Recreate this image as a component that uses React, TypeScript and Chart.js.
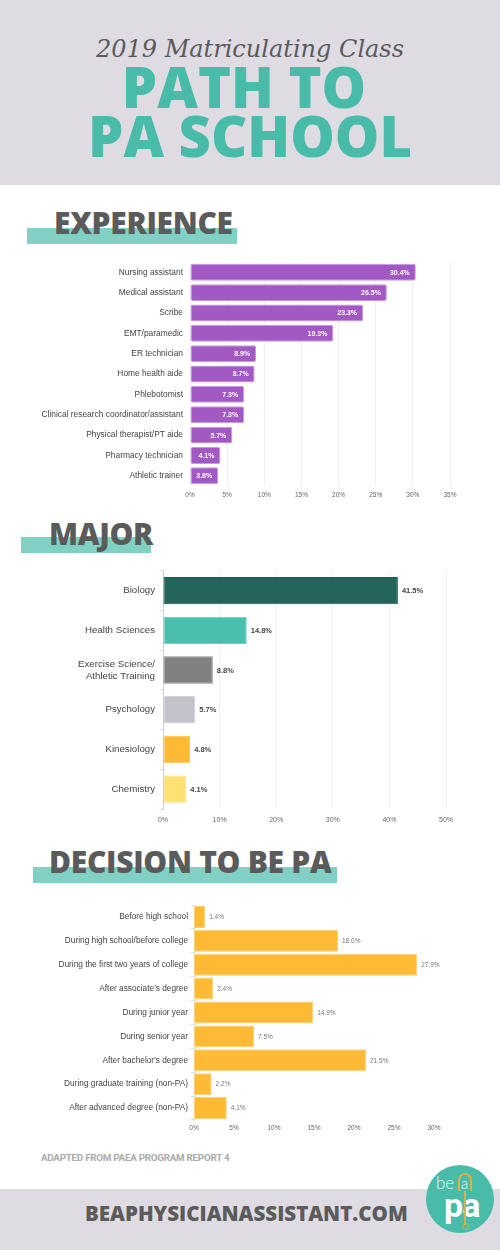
import React, { useEffect, useRef } from "react";
import { Chart, registerables } from "chart.js";

Chart.register(...registerables);

// ---------- DATA ----------
const experienceLabels = [
  "Nursing assistant",
  "Medical assistant",
  "Scribe",
  "EMT/paramedic",
  "ER technician",
  "Home health aide",
  "Phlebotomist",
  "Clinical research coordinator/assistant",
  "Physical therapist/PT aide",
  "Pharmacy technician",
  "Athletic trainer",
];
const experienceValues = [30.4, 26.5, 23.3, 19.3, 8.9, 8.7, 7.3, 7.3, 5.7, 4.1, 3.8];

const majorLabels = [
  "Biology",
  "Health Sciences",
  ["Exercise Science/", "Athletic Training"],
  "Psychology",
  "Kinesiology",
  "Chemistry",
];
const majorValues = [41.5, 14.8, 8.8, 5.7, 4.8, 4.1];
const majorColors = ["#25645a", "#4abfad", "#808080", "#c4c3cb", "#fdbb35", "#fde173"];
const majorBorders = ["#1f5a50", "#6fd0c0", "#8c8c8c", "#d2d1d8", "#fdc550", "#fde58a"];

const decisionLabels = [
  "Before high school",
  "During high school/before college",
  "During the first two years of college",
  "After associate's degree",
  "During junior year",
  "During senior year",
  "After bachelor's degree",
  "During graduate training (non-PA)",
  "After advanced degree (non-PA)",
];
const decisionValues = [1.4, 18.0, 27.9, 2.4, 14.9, 7.5, 21.5, 2.2, 4.1];

const CHART_FONT = "'Liberation Sans', Arial, sans-serif";

const valueLabels = {
  id: "valueLabels",
  afterDatasetsDraw(chart: any, _args: any, opts: any) {
    const { ctx } = chart;
    const meta = chart.getDatasetMeta(0);
    const data = chart.data.datasets[0].data as number[];
    ctx.save();
    ctx.font = opts.font;
    ctx.fillStyle = opts.color;
    ctx.textBaseline = "middle";
    meta.data.forEach((bar: any, i: number) => {
      const text = data[i].toFixed(1) + "%";
      if (opts.inside) {
        ctx.textAlign = "right";
        ctx.fillText(text, bar.x - opts.offset, bar.y + 0.5);
      } else {
        ctx.textAlign = "left";
        ctx.fillText(text, bar.x + opts.offset, bar.y + 0.5);
      }
    });
    ctx.restore();
  },
};

function useChart(ref: React.RefObject<HTMLCanvasElement>, make: () => any) {
  useEffect(() => {
    if (!ref.current) return;
    const chart = new Chart(ref.current, make());
    return () => chart.destroy();
  }, []);
}

function ExperienceChart() {
  const ref = useRef<HTMLCanvasElement>(null);
  useChart(ref, () => ({
    type: "bar",
    data: {
      labels: experienceLabels,
      datasets: [
        {
          data: experienceValues,
          backgroundColor: "#a259c4",
          borderColor: "#c59ade",
          borderWidth: 1,
          borderRadius: 2,
          borderSkipped: false,
          categoryPercentage: 1,
          barPercentage: 0.83,
        },
      ],
    },
    plugins: [valueLabels],
    options: {
      indexAxis: "y",
      responsive: false,
      animation: false,
      layout: { padding: { top: 9, right: 50, left: 0, bottom: 0 } },
      plugins: {
        legend: { display: false },
        tooltip: { enabled: false },
        valueLabels: { inside: true, offset: 6, font: `bold 7px ${CHART_FONT}`, color: "#ffffff" },
      },
      scales: {
        x: {
          min: 0,
          max: 35,
          ticks: {
            stepSize: 5,
            callback: (v: any) => v + "%",
            font: { family: CHART_FONT, size: 6.5 },
            color: "#666",
            padding: 5.5,
          },
          grid: { color: "#efefef", drawTicks: false },
          border: { display: false },
          afterFit: (s: any) => { s.height = 20; },
        },
        y: {
          ticks: { font: { family: CHART_FONT, size: 8.4 }, color: "#444", padding: 7 },
          grid: { display: false, drawTicks: false },
          border: { display: false },
          afterFit: (s: any) => { s.width = 190; },
        },
      },
    },
  }));
  return <canvas ref={ref} width={500} height={256} style={{ position: "absolute", left: 0, top: 250 }} />;
}

function MajorChart() {
  const ref = useRef<HTMLCanvasElement>(null);
  useChart(ref, () => ({
    type: "bar",
    data: {
      labels: majorLabels,
      datasets: [
        {
          data: majorValues,
          backgroundColor: majorColors,
          borderColor: majorBorders,
          borderWidth: 1,
          borderSkipped: false,
          categoryPercentage: 1,
          barPercentage: 0.69,
        },
      ],
    },
    plugins: [valueLabels],
    options: {
      indexAxis: "y",
      responsive: false,
      animation: false,
      layout: { padding: { top: 4.6, right: 54, left: 0, bottom: 0 } },
      plugins: {
        legend: { display: false },
        tooltip: { enabled: false },
        valueLabels: { inside: false, offset: 4, font: `bold 7.5px ${CHART_FONT}`, color: "#444" },
      },
      scales: {
        x: {
          min: 0,
          max: 50,
          ticks: {
            stepSize: 10,
            callback: (v: any) => v + "%",
            font: { family: CHART_FONT, size: 7 },
            color: "#666",
            padding: 6.5,
          },
          grid: { color: "#f0f0f0", drawTicks: false },
          border: { display: false },
          afterFit: (s: any) => { s.height = 20; },
        },
        y: {
          ticks: { font: { family: CHART_FONT, size: 9.7 }, color: "#444", padding: 5 },
          grid: { drawOnChartArea: false, drawTicks: true, tickLength: 3, color: "#dddddd" },
          border: { display: true, color: "#cccccc" },
          afterFit: (s: any) => { s.width = 163; },
        },
      },
    },
  }));
  return <canvas ref={ref} width={500} height={269} style={{ position: "absolute", left: 0, top: 560 }} />;
}

function DecisionChart() {
  const ref = useRef<HTMLCanvasElement>(null);
  useChart(ref, () => ({
    type: "bar",
    data: {
      labels: decisionLabels,
      datasets: [
        {
          data: decisionValues,
          backgroundColor: "#fdbb35",
          borderColor: "#fdd07a",
          borderWidth: 1,
          borderSkipped: false,
          categoryPercentage: 1,
          barPercentage: 0.92,
        },
      ],
    },
    plugins: [valueLabels],
    options: {
      indexAxis: "y",
      responsive: false,
      animation: false,
      layout: { padding: { top: 10, right: 66, left: 0, bottom: 0 } },
      plugins: {
        legend: { display: false },
        tooltip: { enabled: false },
        valueLabels: { inside: false, offset: 4, font: `6.5px ${CHART_FONT}`, color: "#777" },
      },
      scales: {
        x: {
          min: 0,
          max: 30,
          ticks: {
            stepSize: 5,
            callback: (v: any) => v + "%",
            font: { family: CHART_FONT, size: 6.5 },
            color: "#666",
            padding: 4.5,
          },
          grid: { display: false, drawTicks: false },
          border: { display: false },
          afterFit: (s: any) => { s.height = 16; },
        },
        y: {
          ticks: { font: { family: CHART_FONT, size: 8.3 }, color: "#444", padding: 3 },
          grid: { drawOnChartArea: false, drawTicks: true, tickLength: 3, color: "#dddddd" },
          border: { display: true, color: "#dddddd" },
          afterFit: (s: any) => { s.width = 194; },
        },
      },
    },
  }));
  return <canvas ref={ref} width={500} height={241} style={{ position: "absolute", left: 0, top: 895 }} />;
}

const HEAD_FONT = "'Open Sans', 'DejaVu Sans', sans-serif";

function SectionHeading(props: { text: string; barLeft: number; barWidth: number; barTop: number; textLeft: number; textTop: number }) {
  return (
    <>
      <div
        style={{
          position: "absolute",
          left: props.barLeft,
          top: props.barTop,
          width: props.barWidth,
          height: 16,
          background: "#80d1c3",
        }}
      />
      <div
        style={{
          position: "absolute",
          left: props.textLeft,
          top: props.textTop,
          fontFamily: HEAD_FONT,
          fontWeight: 800,
          fontSize: 30,
          lineHeight: "30px",
          color: "#5b5b5b",
          whiteSpace: "nowrap",
          letterSpacing: -0.3,
        }}
      >
        {props.text}
      </div>
    </>
  );
}

export default function App() {
  return (
    <div style={{ position: "absolute", left: 0, top: 0, width: 500, height: 1250, background: "#ffffff", overflow: "hidden" }}>
      {/* Header band */}
      <div style={{ position: "absolute", left: 0, top: 0, width: 500, height: 185, background: "#dedbe2" }} />
      <div
        style={{
          position: "absolute",
          left: 0,
          width: 500,
          top: 34,
          textAlign: "center",
          fontFamily: "'DejaVu Serif', serif",
          fontStyle: "italic",
          fontSize: 24,
          lineHeight: "30px",
          color: "#5b5b5b",
          whiteSpace: "nowrap",
        }}
      >
        2019 Matriculating Class
      </div>
      <div
        style={{
          position: "absolute",
          left: 0,
          width: 500,
          top: 62,
          textAlign: "center",
          fontFamily: HEAD_FONT,
          fontWeight: 800,
          fontSize: 56,
          lineHeight: "49px",
          color: "#48bca9",
          whiteSpace: "nowrap",
        }}
      >
        <div style={{ position: "relative", left: -6 }}>PATH TO</div>
        <div>PA SCHOOL</div>
      </div>

      <SectionHeading text="EXPERIENCE" barLeft={27} barWidth={210} barTop={228} textLeft={54} textTop={208} />
      <ExperienceChart />

      <SectionHeading text="MAJOR" barLeft={21} barWidth={130} barTop={537} textLeft={49} textTop={519} />
      <MajorChart />

      <SectionHeading text="DECISION TO BE PA" barLeft={33} barWidth={304} barTop={867} textLeft={49} textTop={847} />
      <DecisionChart />

      <div
        style={{
          position: "absolute",
          left: 41,
          top: 1152,
          fontFamily: "Roboto, sans-serif",
          fontWeight: 700,
          fontSize: 9.8,
          lineHeight: "12px",
          color: "#aaaaaa",
          whiteSpace: "nowrap",
          letterSpacing: -0.25,
        }}
      >
        ADAPTED FROM PAEA PROGRAM REPORT 4
      </div>

      {/* Footer band */}
      <div style={{ position: "absolute", left: 0, top: 1189, width: 500, height: 61, background: "#dedbe2" }} />
      <div
        style={{
          position: "absolute",
          left: 85,
          top: 1199,
          fontFamily: HEAD_FONT,
          fontWeight: 800,
          fontSize: 20.5,
          lineHeight: "28px",
          color: "#5b5b5b",
          whiteSpace: "nowrap",
        }}
      >
        BEAPHYSICIANASSISTANT.COM
      </div>

      {/* Logo */}
      <div
        style={{
          position: "absolute",
          left: 426,
          top: 1165,
          width: 68,
          height: 68,
          borderRadius: "50%",
          background: "#48bca9",
        }}
      >
        <div
          style={{
            position: "absolute",
            left: 10,
            top: 9,
            fontFamily: "Lato, sans-serif",
            fontWeight: 300,
            fontSize: 17,
            lineHeight: "18px",
            color: "#e6f5f2",
          }}
        >
          be
        </div>
        <div
          style={{
            position: "absolute",
            left: 32,
            top: 8,
            width: 14,
            height: 18,
            borderLeft: "2px solid #d6b24a",
            borderRight: "2px solid #d6b24a",
            borderTop: "2px solid #d6b24a",
            borderRadius: "7px 7px 0 0",
            boxSizing: "border-box",
          }}
        />
        <div
          style={{
            position: "absolute",
            left: 35,
            top: 9,
            fontFamily: "Lato, sans-serif",
            fontWeight: 300,
            fontSize: 15,
            lineHeight: "18px",
            color: "#e6f5f2",
          }}
        >
          a
        </div>
        <div
          style={{
            position: "absolute",
            left: 18,
            top: 23,
            fontFamily: "Roboto, sans-serif",
            fontWeight: 700,
            fontSize: 34,
            lineHeight: "34px",
            color: "#ffffff",
            letterSpacing: -1,
          }}
        >
          pa
        </div>
        <div
          style={{
            position: "absolute",
            left: 38,
            top: 26,
            width: 2,
            height: 34,
            background: "#d6b24a",
          }}
        />
        <div
          style={{
            position: "absolute",
            left: 35.5,
            top: 58,
            width: 7,
            height: 7,
            borderRadius: "50%",
            border: "1.5px solid #d6b24a",
            boxSizing: "border-box",
          }}
        />
      </div>
    </div>
  );
}
